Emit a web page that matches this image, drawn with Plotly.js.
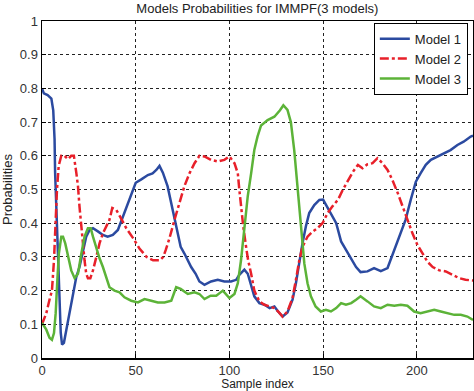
<!DOCTYPE html>
<html>
<head>
<meta charset="utf-8">
<script src="https://cdn.plot.ly/plotly-3.0.1.min.js"></script>
<style>html,body{margin:0;padding:0;background:#fff;}#chart{width:474px;height:391px;}</style>
</head>
<body>
<div id="chart"></div>
<script>
// Model 1 (blue)
const m1x = [0,1,3,5,6,6.7,7,7.6,8.2,8.9,9.4,10,10.7,11.7,13,14.7,16.5,18.3,20,21.8,23.6,25.4,27.2,30,32.5,35,37.8,40.5,44,47.6,50,53,56.5,59,61,62.7,64.5,67,69,70.7,72.5,74,76,77.8,79.6,82,84,86.7,90.2,93.8,97.3,100.9,103.6,105.3,108,109.8,111.6,113.3,116,118.7,121.5,124,126,128.4,131,133.7,135.5,137.3,139,140.8,142.6,145.3,148,150,151.5,154.2,157,159.6,162.2,165,167.6,170,173.7,177.2,180.8,184.4,186,188.8,191.5,194,196.8,199.5,202,204.8,207.5,211,214.6,218,221.7,225,228.8,230];
const m1y = [0.80,0.785,0.78,0.77,0.735,0.65,0.55,0.45,0.35,0.25,0.15,0.075,0.04,0.045,0.084,0.133,0.19,0.24,0.27,0.32,0.36,0.38,0.385,0.375,0.365,0.36,0.365,0.38,0.43,0.48,0.52,0.53,0.543,0.548,0.558,0.57,0.55,0.51,0.46,0.41,0.37,0.33,0.31,0.29,0.27,0.25,0.227,0.217,0.227,0.232,0.227,0.227,0.232,0.247,0.262,0.25,0.212,0.183,0.163,0.158,0.148,0.153,0.138,0.123,0.135,0.173,0.222,0.29,0.34,0.39,0.43,0.454,0.469,0.47,0.454,0.43,0.40,0.346,0.32,0.296,0.27,0.255,0.257,0.267,0.258,0.267,0.29,0.33,0.37,0.41,0.47,0.523,0.548,0.573,0.588,0.597,0.607,0.617,0.632,0.642,0.657,0.66];
// Model 2 (red)
const m2x = [0,2.3,4,5.3,6.4,7,8,8.9,10.3,12,13.9,15.6,17,18.3,19.2,20,21,21.8,22.7,23.6,24.5,25.8,27.2,29,30.7,32.5,34.3,36,37.5,39.6,41.6,45,48.7,52,55.8,59.3,62.9,64.7,66,68,70.7,73.4,76,78.7,81.4,84,86.7,90.2,93.8,97.3,100,102.7,104.5,105.3,106.2,107.4,108.9,110,111.6,113.3,116,118.7,121.5,124,126,128.4,131,133.7,135.5,137.3,139,141.7,144.4,147,149.7,152.4,155,158,160.6,163.3,166,168.6,171,173.7,176.4,179,181.7,184.4,187,189.8,192.4,195,197.7,200.4,203,205.8,208.5,212,215.5,219,222.6,226,230];
const m2y = [0.10,0.133,0.173,0.20,0.29,0.39,0.50,0.57,0.60,0.60,0.59,0.60,0.60,0.55,0.51,0.45,0.39,0.33,0.29,0.25,0.237,0.237,0.26,0.30,0.34,0.37,0.39,0.41,0.445,0.44,0.42,0.385,0.355,0.325,0.30,0.29,0.29,0.30,0.32,0.355,0.41,0.46,0.51,0.548,0.578,0.60,0.598,0.588,0.583,0.588,0.598,0.578,0.548,0.50,0.45,0.39,0.33,0.29,0.25,0.20,0.168,0.158,0.153,0.148,0.138,0.123,0.138,0.178,0.232,0.29,0.33,0.36,0.375,0.385,0.40,0.43,0.45,0.47,0.50,0.528,0.553,0.573,0.563,0.575,0.578,0.593,0.578,0.558,0.528,0.49,0.45,0.41,0.37,0.335,0.31,0.285,0.27,0.26,0.257,0.247,0.237,0.232,0.23];
// Model 3 (green)
const m3x = [0,2.3,4,5.3,6.4,7.3,8.2,9,10.3,11.2,12.4,13.9,15.6,17.4,19.2,21,22.7,24.5,26,27.2,29,30.7,32.5,34.3,36,38.7,41.4,44,47.6,51.2,54.7,58.3,61.8,65.4,69,71.6,74,77.8,81.4,84,86.7,90,93,96.5,100,102.7,104.5,106.2,108,109.8,111.6,113.3,115,116.9,120.4,124,127,128.8,131,132.8,134.6,136,137.3,138.5,140,141.7,143.5,146,148.8,151.5,154.2,157,159.6,162.2,165,167.6,170,173.7,177.2,180.8,184.4,188,191.5,195,198.6,202,205.8,209.3,212.8,216.4,220,223.5,227,230];
const m3y = [0.104,0.084,0.06,0.054,0.074,0.133,0.232,0.31,0.36,0.36,0.34,0.30,0.26,0.237,0.25,0.31,0.36,0.385,0.385,0.36,0.326,0.296,0.27,0.24,0.21,0.20,0.195,0.18,0.17,0.165,0.175,0.17,0.165,0.165,0.17,0.21,0.205,0.19,0.195,0.19,0.175,0.185,0.185,0.2,0.178,0.19,0.222,0.29,0.39,0.48,0.548,0.617,0.657,0.69,0.706,0.716,0.735,0.75,0.736,0.70,0.617,0.528,0.43,0.35,0.28,0.222,0.183,0.153,0.138,0.143,0.138,0.148,0.163,0.158,0.163,0.173,0.183,0.168,0.153,0.148,0.158,0.155,0.158,0.155,0.138,0.133,0.138,0.143,0.138,0.133,0.128,0.128,0.123,0.113];

const seriesNames = ["Model 1","Model 2","Model 3"];
const xTicks = [0,50,100,150,200];
const yTicks = [0,0.1,0.2,0.3,0.4,0.5,0.6,0.7,0.8,0.9,1];
const yTickText = ["0","0.1","0.2","0.3","0.4","0.5","0.6","0.7","0.8","0.9","1"];

const FONT = "Liberation Sans, Arial, sans-serif";
const traces = [
  {x:m1x, y:m1y, name:seriesNames[0], mode:"lines", line:{color:"#2b4aa0", width:2.5}},
  {x:m2x, y:m2y, name:seriesNames[1], mode:"lines", line:{color:"#e8202a", width:2.5, dash:"dashdot"}},
  {x:m3x, y:m3y, name:seriesNames[2], mode:"lines", line:{color:"#5cb338", width:2.5}}
];
const axisCommon = {
  showline:true, linecolor:"#000", linewidth:1.5, mirror:true,
  showgrid:true, gridcolor:"#222", griddash:"3px,3px", gridwidth:1,
  zeroline:false, ticks:"inside", ticklen:4, tickcolor:"#000",
  tickfont:{family:FONT, size:13, color:"#333"}
};
const layout = {
  width:474, height:391,
  margin:{l:42, r:1, t:21, b:33},
  paper_bgcolor:"#fff", plot_bgcolor:"#fff",
  title:{text:"Models Probabilities for IMMPF(3 models)", font:{family:FONT, size:13, color:"#222"}, x:0.543, xanchor:"center", y:0.979, yanchor:"middle"},
  xaxis:Object.assign({}, axisCommon, {range:[0,230], tickvals:xTicks, ticktext:xTicks.map(String),
    title:{text:"Sample index", font:{family:FONT, size:12, color:"#222"}, standoff:4}}),
  yaxis:Object.assign({}, axisCommon, {range:[0,1], tickvals:yTicks, ticktext:yTickText,
    title:{text:"Probabilities", font:{family:FONT, size:13, color:"#222"}, standoff:6}}),
  showlegend:true,
  legend:{x:0.988, xanchor:"right", y:0.995, yanchor:"top", bgcolor:"#fff", bordercolor:"#000", borderwidth:1,
    font:{family:FONT, size:13, color:"#222"}, tracegroupgap:0}
};
Plotly.newPlot("chart", traces, layout, {displayModeBar:false, staticPlot:true});
</script>
</body>
</html>
